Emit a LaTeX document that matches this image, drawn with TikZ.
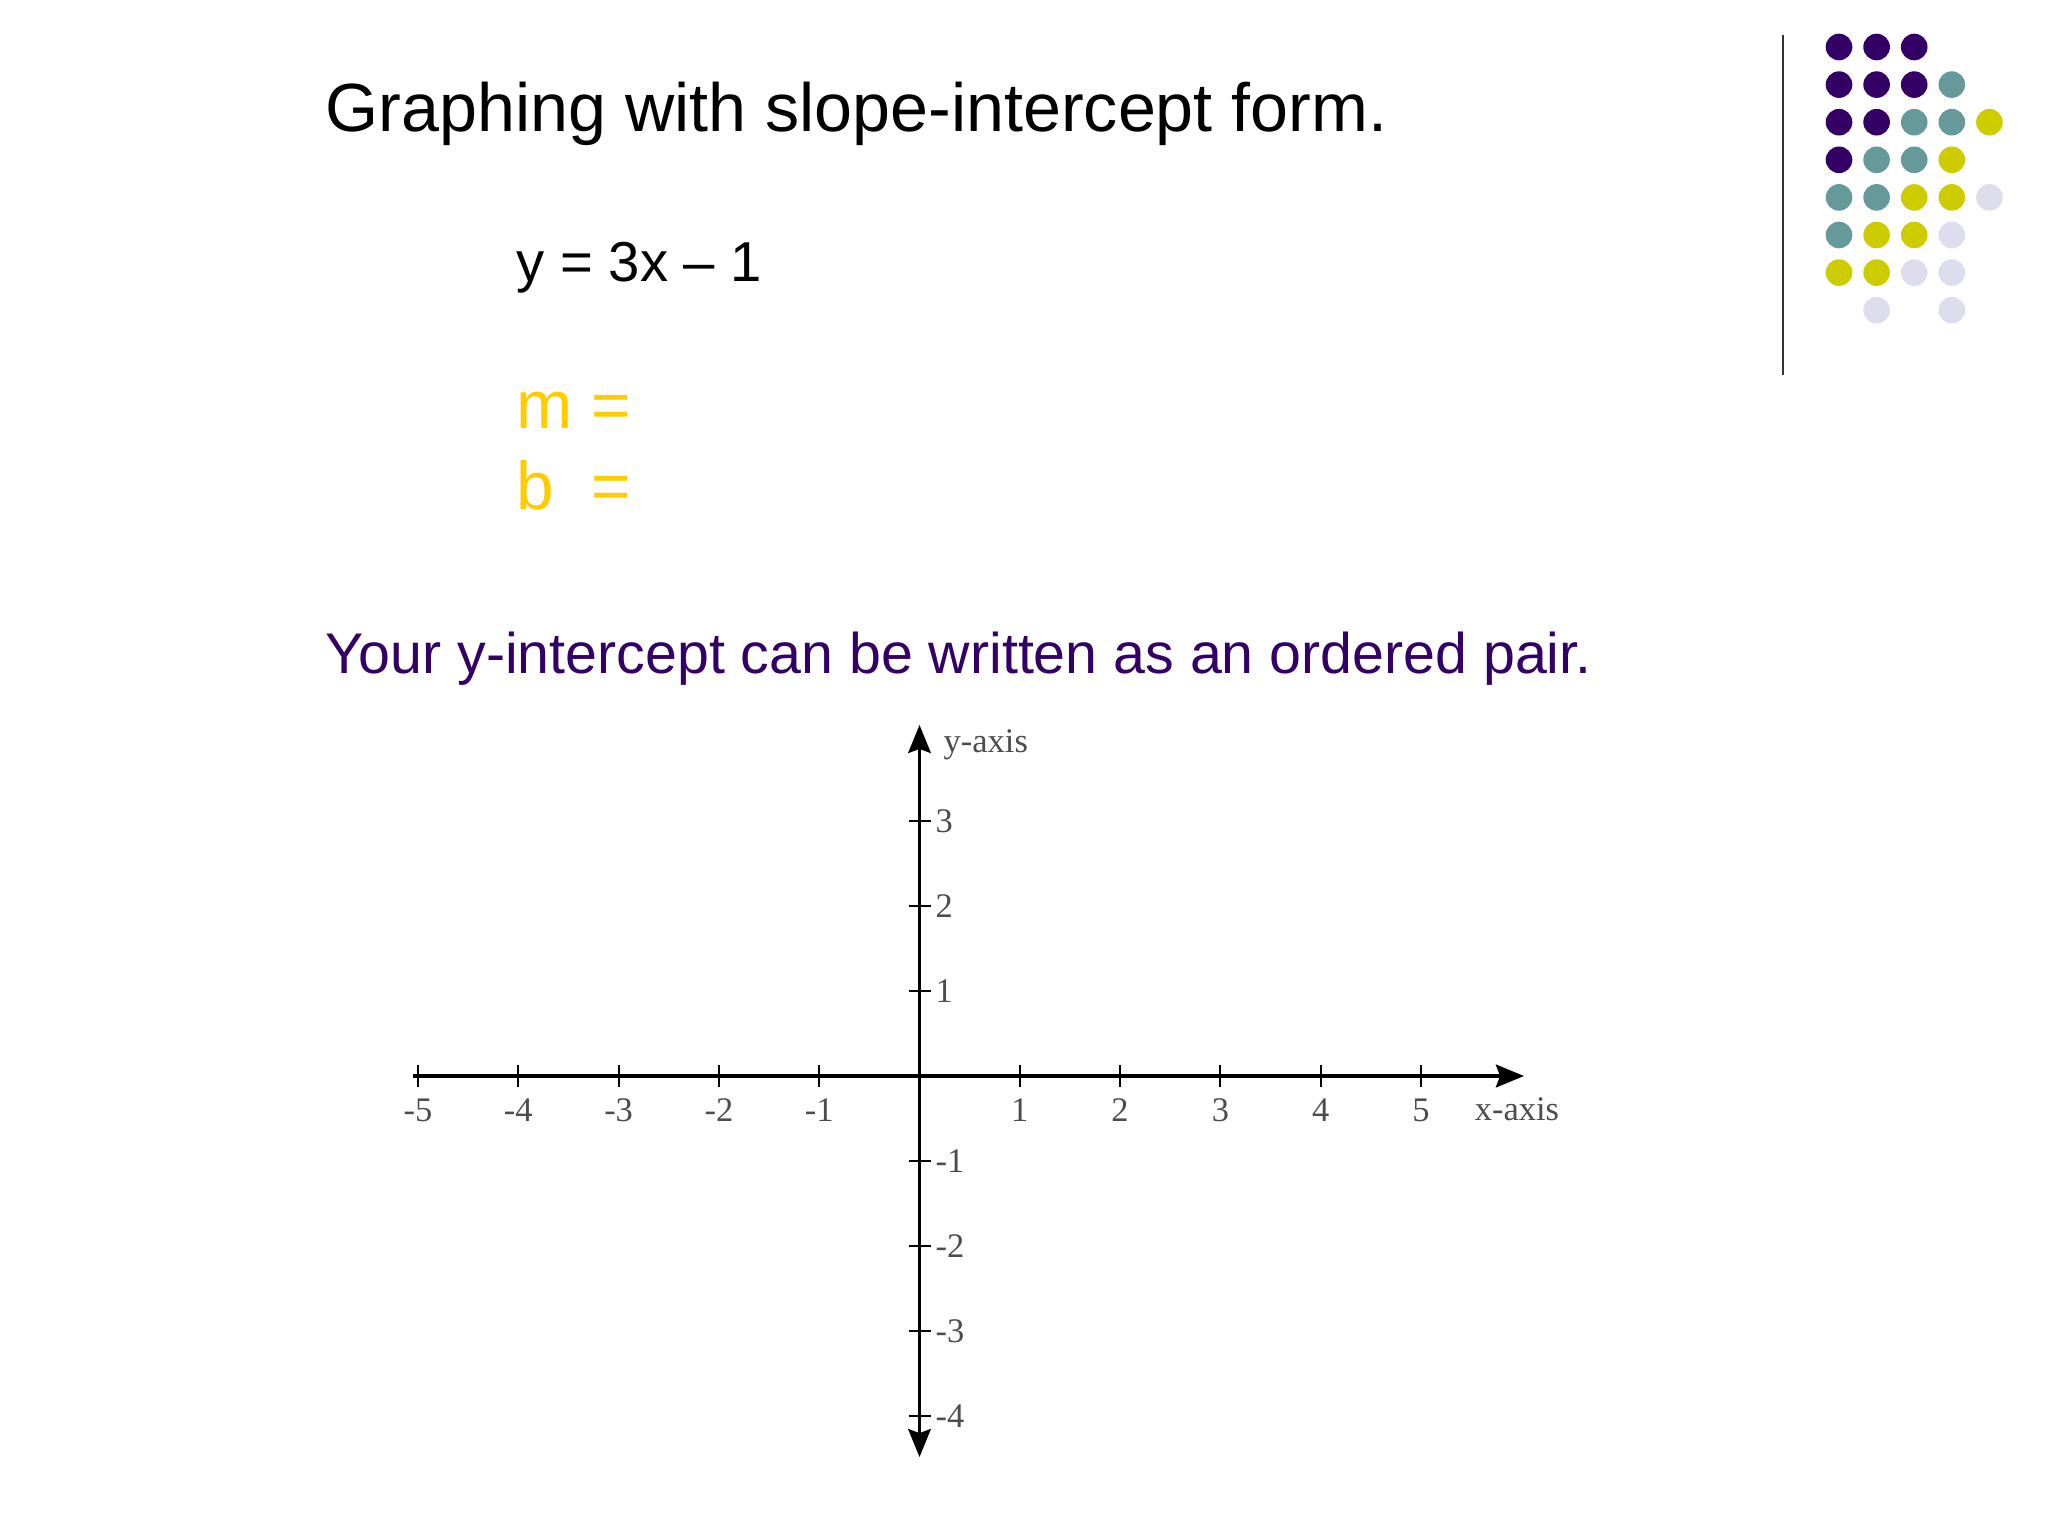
\documentclass[tikz,border=0pt]{standalone}
\usepackage{fontspec}
\setmainfont{Liberation Sans}
\newfontfamily\axisfont{Liberation Serif}
\usetikzlibrary{arrows.meta}
\definecolor{dpurple}{HTML}{330066}
\definecolor{dteal}{HTML}{669999}
\definecolor{dolive}{HTML}{CCCC00}
\definecolor{dlilac}{HTML}{DDDDEE}
\definecolor{gold}{HTML}{FFCC00}

\begin{document}
\begin{tikzpicture}[x=0.01cm,y=-0.01cm,
	axtip/.style={-{Stealth[length=8pt,width=6.5pt,inset=1.2pt]}},
	axlabel/.style={font=\axisfont\fontsize{9.8}{11}\selectfont,text=black!70,inner sep=0pt}]
	\useasboundingbox (0,0) rectangle (2048,1536);

	% corner dots
	\foreach \c/\r/\clr in {0/0/dpurple,1/0/dpurple,2/0/dpurple,
		0/1/dpurple,1/1/dpurple,2/1/dpurple,3/1/dteal,
		0/2/dpurple,1/2/dpurple,2/2/dteal,3/2/dteal,4/2/dolive,
		0/3/dpurple,1/3/dteal,2/3/dteal,3/3/dolive,
		0/4/dteal,1/4/dteal,2/4/dolive,3/4/dolive,4/4/dlilac,
		0/5/dteal,1/5/dolive,2/5/dolive,3/5/dlilac,
		0/6/dolive,1/6/dolive,2/6/dlilac,3/6/dlilac,
		1/7/dlilac,3/7/dlilac}
		\fill[\clr] ({1839+37.6*\c},{47+37.6*\r}) circle[radius=0.133cm];
	\draw[line width=0.6pt,black!80] (1783,35) -- (1783,375);

	% text
	\node[anchor=base west,inner sep=0pt,font=\fontsize{19.4}{23}\selectfont] (title) at (325,131) {Graphing with slope-intercept form.};
	\node[anchor=base west,inner sep=0pt,font=\fontsize{16}{19}\selectfont] (eqn) at (516,281) {y = 3x – 1};
	\node[anchor=base west,inner sep=0pt,font=\fontsize{19.2}{23}\selectfont,text=gold] (slope) at (516,428) {m =};
	\node[anchor=base west,inner sep=0pt,font=\fontsize{19.2}{23}\selectfont,text=gold] (yint) at (516,509) {b \ =};
	\node[anchor=base west,inner sep=0pt,font=\fontsize{16.3}{19}\selectfont,text=dpurple] (note) at (325,673) {Your y-intercept can be written as an ordered pair.};

	% axes
	\coordinate (O) at (919.5,1076);
	\coordinate (xl) at (413,1076);
	\coordinate (xr) at (1524,1076);
	\coordinate (yb) at (919.5,1457);
	\coordinate (yt) at (919.5,725);
	\draw[line width=0.9pt,axtip] (xl) -- (xr);
	\draw[line width=0.6pt,axtip] (O) -- (yt);
	\draw[line width=0.6pt,axtip] (O) -- (yb);
	\foreach \i in {-5,-4,-3,-2,-1,1,2,3,4,5} {
		\draw[line width=0.6pt] ({919.5+100.3*\i},1065) -- ({919.5+100.3*\i},1087);
		\node[axlabel] (xt\i) at ({919.5+100.3*\i},1110) {\i};
	}
	\foreach \i in {-4,-3,-2,-1,1,2,3} {
		\draw[line width=0.6pt] (908.5,{1076-85*\i}) -- (930.5,{1076-85*\i});
		\node[axlabel,anchor=west] (yt\i) at (935,{1076-85*\i}) {\i};
	}
	\node[axlabel] (xname) at (1517,1109) {x-axis};
	\node[axlabel,anchor=west] (yname) at (943,745) {y-axis};
\end{tikzpicture}
\end{document}
